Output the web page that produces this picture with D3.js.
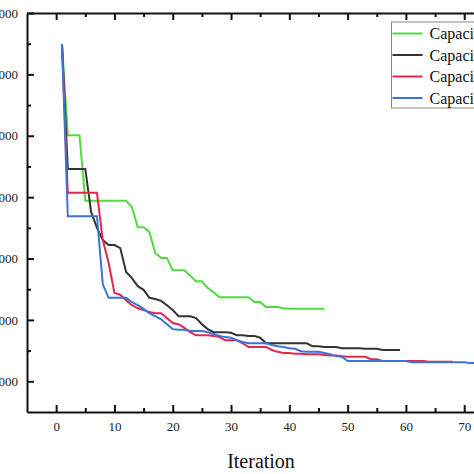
<!DOCTYPE html>
<html>
<head>
<meta charset="utf-8">
<script src="https://cdn.jsdelivr.net/npm/d3@7/dist/d3.min.js"></script>
<style>
  body { margin: 0; background: #fff; overflow: hidden; }
  svg { display: block; }
  .axis text { font-family: "Liberation Serif", serif; font-size: 13px; fill: #222; }
  .axis path, .axis line { stroke: #111; }
</style>
</head>
<body>
<div id="chart"></div>
<script>
var width = 474,
    height = 474;

// data, one value per iteration starting at 1
var seriesNames = ["Capacity 1", "Capacity 2", "Capacity 3", "Capacity 4"];
var seriesColors = ["#4fdc3c", "#333333", "#e3284c", "#3b74d6"];

var green = [7490, 6010, 6010, 6010, 4940, 4940, 4940, 4940, 4940, 4940, 4940, 4940, 4840, 4510, 4510, 4430,
  4090, 4010, 4010, 3810, 3810, 3810, 3720, 3630, 3630, 3520, 3450, 3370, 3370, 3370, 3370, 3370, 3370,
  3290, 3290, 3210, 3210, 3210, 3190, 3180, 3180, 3180, 3180, 3180, 3180, 3180];

var black = [7490, 5460, 5460, 5460, 5460, 4760, 4500, 4300, 4220, 4220, 4170, 3780, 3680, 3550, 3490, 3360,
  3340, 3310, 3240, 3160, 3060, 3060, 3060, 3030, 2930, 2850, 2800, 2800, 2800, 2790, 2750, 2750, 2740,
  2740, 2710, 2620, 2620, 2620, 2620, 2620, 2620, 2620, 2620, 2570, 2570, 2560, 2560, 2560, 2540, 2540,
  2540, 2540, 2530, 2530, 2530, 2510, 2510, 2510, 2510];

var red = [7490, 5070, 5070, 5070, 5070, 5070, 5070, 4300, 3930, 3440, 3410, 3320, 3240, 3190, 3160, 3130,
  3110, 3110, 3030, 2950, 2930, 2870, 2800, 2750, 2750, 2750, 2740, 2720, 2670, 2670, 2670, 2620, 2560,
  2560, 2560, 2560, 2510, 2480, 2460, 2460, 2450, 2450, 2440, 2440, 2440, 2430, 2420, 2420, 2410, 2400,
  2400, 2400, 2400, 2360, 2360, 2330, 2330, 2330, 2330, 2330, 2330, 2330, 2330, 2320, 2320, 2320, 2320, 2320];

var blue = [7490, 4690, 4690, 4690, 4690, 4690, 4690, 3580, 3360, 3360, 3360, 3360, 3290, 3240, 3180, 3110,
  3060, 3010, 2930, 2850, 2840, 2840, 2820, 2820, 2820, 2800, 2770, 2740, 2720, 2710, 2670, 2640, 2620,
  2620, 2620, 2620, 2590, 2570, 2560, 2540, 2530, 2490, 2480, 2480, 2480, 2460, 2440, 2410, 2400, 2330,
  2330, 2330, 2330, 2330, 2330, 2330, 2330, 2330, 2330, 2330, 2310, 2310, 2310, 2310, 2310, 2310, 2310,
  2310, 2310, 2310, 2300, 2300, 2300, 2300, 2300];

var xTicks = [0, 10, 20, 30, 40, 50, 60, 70, 80];
var xMinorTicks = [5, 15, 25, 35, 45, 55, 65, 75];
var yTicks = [2000, 3000, 4000, 5000, 6000, 7000, 8000];
var yMinorTicks = [2500, 3500, 4500, 5500, 6500, 7500];

var allSeries = [green, black, red, blue];

var x = d3.scaleLinear()
    .domain([-5, 80])
    .range([27, 522.5]);

var y = d3.scaleLinear()
    .domain([1500, 8000])
    .range([412, 13]);

var svg = d3.select("#chart").append("svg")
    .attr("width", width)
    .attr("height", height);

// axes, ticks point inward
svg.append("g")
    .attr("class", "axis")
    .attr("transform", "translate(0,412)")
    .call(d3.axisBottom(x).tickValues(xTicks).tickSizeInner(-7).tickSizeOuter(0).tickPadding(10).tickFormat(d3.format("d")))
    .call(function(g) { g.select(".domain").attr("stroke-width", 2); g.selectAll(".tick line").attr("stroke-width", 2); });

svg.append("g")
    .attr("class", "axis")
    .attr("transform", "translate(0,412)")
    .call(d3.axisBottom(x).tickValues(xMinorTicks).tickSizeInner(-4).tickSizeOuter(0).tickFormat(""))
    .call(function(g) { g.select(".domain").remove(); g.selectAll(".tick line").attr("stroke-width", 2); });

svg.append("g")
    .attr("class", "axis")
    .attr("transform", "translate(0,13)")
    .call(d3.axisTop(x).tickValues(xTicks).tickSizeInner(-7).tickSizeOuter(0).tickFormat(""))
    .call(function(g) { g.select(".domain").attr("stroke-width", 2); g.selectAll(".tick line").attr("stroke-width", 2); });

svg.append("g")
    .attr("class", "axis")
    .attr("transform", "translate(0,13)")
    .call(d3.axisTop(x).tickValues(xMinorTicks).tickSizeInner(-4).tickSizeOuter(0).tickFormat(""))
    .call(function(g) { g.select(".domain").remove(); g.selectAll(".tick line").attr("stroke-width", 2); });

svg.append("g")
    .attr("class", "axis")
    .attr("transform", "translate(27,0)")
    .call(d3.axisLeft(y).tickValues(yTicks).tickSizeInner(-7).tickSizeOuter(0).tickPadding(9).tickFormat(d3.format("d")))
    .call(function(g) { g.select(".domain").attr("stroke-width", 2); g.selectAll(".tick line").attr("stroke-width", 2); });

svg.append("g")
    .attr("class", "axis")
    .attr("transform", "translate(27,0)")
    .call(d3.axisLeft(y).tickValues(yMinorTicks).tickSizeInner(-4).tickSizeOuter(0).tickFormat(""))
    .call(function(g) { g.select(".domain").remove(); g.selectAll(".tick line").attr("stroke-width", 2); });

svg.append("text")
    .attr("x", 261)
    .attr("y", 468)
    .attr("text-anchor", "middle")
    .style("font-family", "Liberation Serif, serif")
    .style("font-size", "20px")
    .style("fill", "#111")
    .text("Iteration");

var line = d3.line()
    .x(function(d, i) { return x(i + 1); })
    .y(function(d) { return y(d); });

svg.selectAll(".series")
    .data(allSeries)
  .enter().append("path")
    .attr("class", "series")
    .attr("d", line)
    .attr("fill", "none")
    .attr("stroke", function(d, i) { return seriesColors[i]; })
    .attr("stroke-width", 2);

// legend
var legend = svg.append("g")
    .attr("transform", "translate(391.5,22)");

legend.append("rect")
    .attr("width", 120)
    .attr("height", 86)
    .attr("fill", "#fff")
    .attr("stroke", "#888")
    .attr("stroke-width", 1);

var item = legend.selectAll(".item")
    .data(seriesNames)
  .enter().append("g")
    .attr("class", "item")
    .attr("transform", function(d, i) { return "translate(0," + (11.5 + i * 21.5) + ")"; });

item.append("line")
    .attr("x1", 1)
    .attr("x2", 31)
    .attr("stroke", function(d, i) { return seriesColors[i]; })
    .attr("stroke-width", 2);

item.append("text")
    .attr("x", 38)
    .attr("dy", "0.35em")
    .style("font-family", "Liberation Serif, serif")
    .style("font-size", "16px")
    .style("fill", "#111")
    .text(function(d) { return d; });
</script>
</body>
</html>
